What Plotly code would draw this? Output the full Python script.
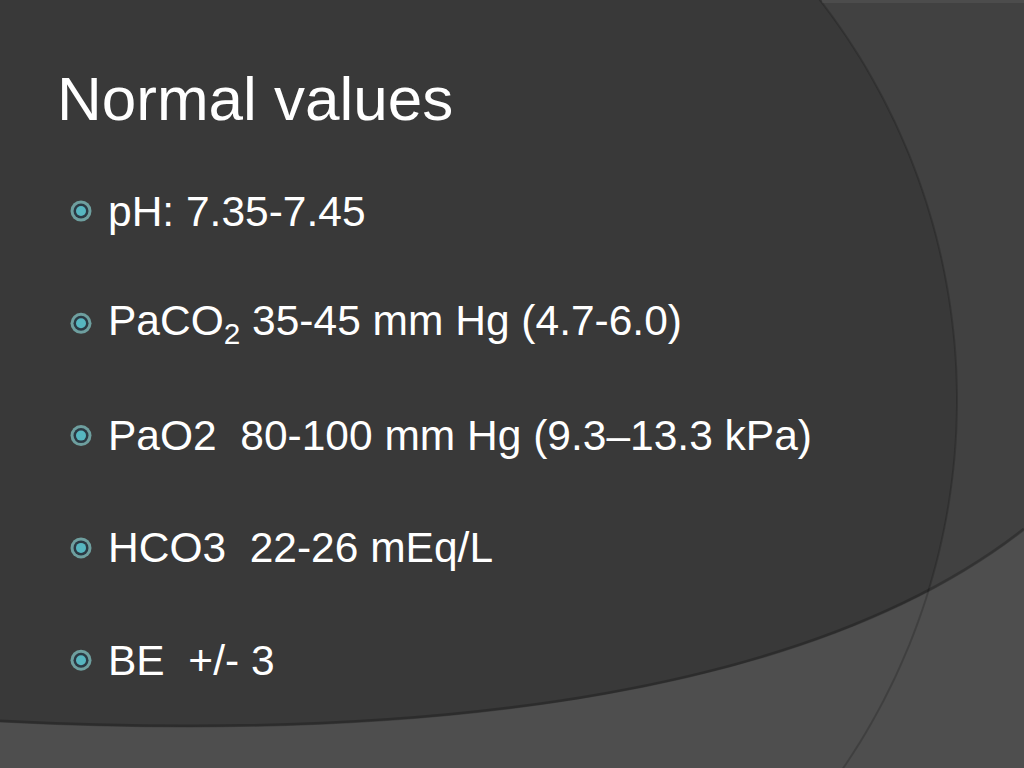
import plotly.graph_objects as go
import numpy as np

# ---- content ----
title_text = "Normal values"
bullet_texts = [
    "pH: 7.35-7.45",
    "PaCO<sub>2</sub> 35-45 mm Hg (4.7-6.0)",
    "PaO2 \u00a080-100 mm Hg (9.3\u201313.3 kPa)",
    "HCO3 \u00a022-26 mEq/L",
    "BE \u00a0+/- 3",
]
bullet_rows = [0, 1, 2, 3, 4]

# ---- layout constants ----
W, H = 1024, 768
first_y, step_y = 211, 112.3
bullet_x, text_x = 81, 106
row_y = [first_y + step_y * r for r in bullet_rows]

FONT = "Liberation Sans, Arial, sans-serif"

fig = go.Figure()

# decorative background
cx, cy, r = 305, 400, 652
theta = np.linspace(-np.pi / 2 - 0.3, np.pi / 2 + 0.3, 200)
arc_x = cx + r * np.cos(theta)
arc_y = cy + r * np.sin(theta)

shapes = []
shapes.append(dict(type="circle", xref="x", yref="y", x0=cx - r, x1=cx + r, y0=cy - r, y1=cy + r,
                   fillcolor="#393939", line=dict(width=0), layer="below"))
bottom_path = "M 0 722 C 450 745, 820 690, 1024 530 L 1024 768 L 0 768 Z"
shapes.append(dict(type="path", xref="x", yref="y", path=bottom_path,
                   fillcolor="#4e4e4e", line=dict(width=0), layer="below"))
shapes.append(dict(type="path", xref="x", yref="y", path="M 0 721 C 450 744, 820 689, 1024 529",
                   line=dict(color="rgba(0,0,0,0.22)", width=3), layer="below"))
arc_path = "M " + " L ".join(f"{a:.1f} {b:.1f}" for a, b in zip(arc_x, arc_y))
shapes.append(dict(type="path", xref="x", yref="y", path=arc_path,
                   line=dict(color="rgba(0,0,0,0.18)", width=2), layer="below"))
shapes.append(dict(type="line", xref="x", yref="y", x0=822, x1=1024, y0=1.5, y1=1.5,
                   line=dict(color="rgba(255,255,255,0.06)", width=3), layer="below"))

# bullets (three concentric markers)
for size, color in [(21, "#6e9f9f"), (15, "#2b3a44"), (10, "#56b6c0")]:
    fig.add_trace(go.Scatter(
        x=[bullet_x] * len(row_y), y=row_y, mode="markers",
        marker=dict(size=size, color=color, line=dict(width=0)),
        hoverinfo="skip", showlegend=False,
    ))

annotations = [dict(
    x=55, y=98, xref="x", yref="y", text=title_text, showarrow=False,
    xanchor="left", yanchor="middle", font=dict(family=FONT, size=62, color="#ffffff"),
)]
for t, y in zip(bullet_texts, row_y):
    annotations.append(dict(
        x=text_x, y=y, xref="x", yref="y", text=t, showarrow=False,
        xanchor="left", yanchor="middle", font=dict(family=FONT, size=42.5, color="#ffffff"),
    ))

fig.update_layout(
    width=W, height=H,
    margin=dict(l=0, r=0, t=0, b=0),
    paper_bgcolor="#414141", plot_bgcolor="#414141",
    xaxis=dict(range=[0, W], visible=False, fixedrange=True),
    yaxis=dict(range=[H, 0], visible=False, fixedrange=True),
    shapes=shapes, annotations=annotations,
    showlegend=False,
)

fig.write_html(
    "out.html",
    config={"displayModeBar": False},
    post_script="document.body.style.margin='0';document.body.style.background='#414141';document.body.style.overflow='hidden';",
)
